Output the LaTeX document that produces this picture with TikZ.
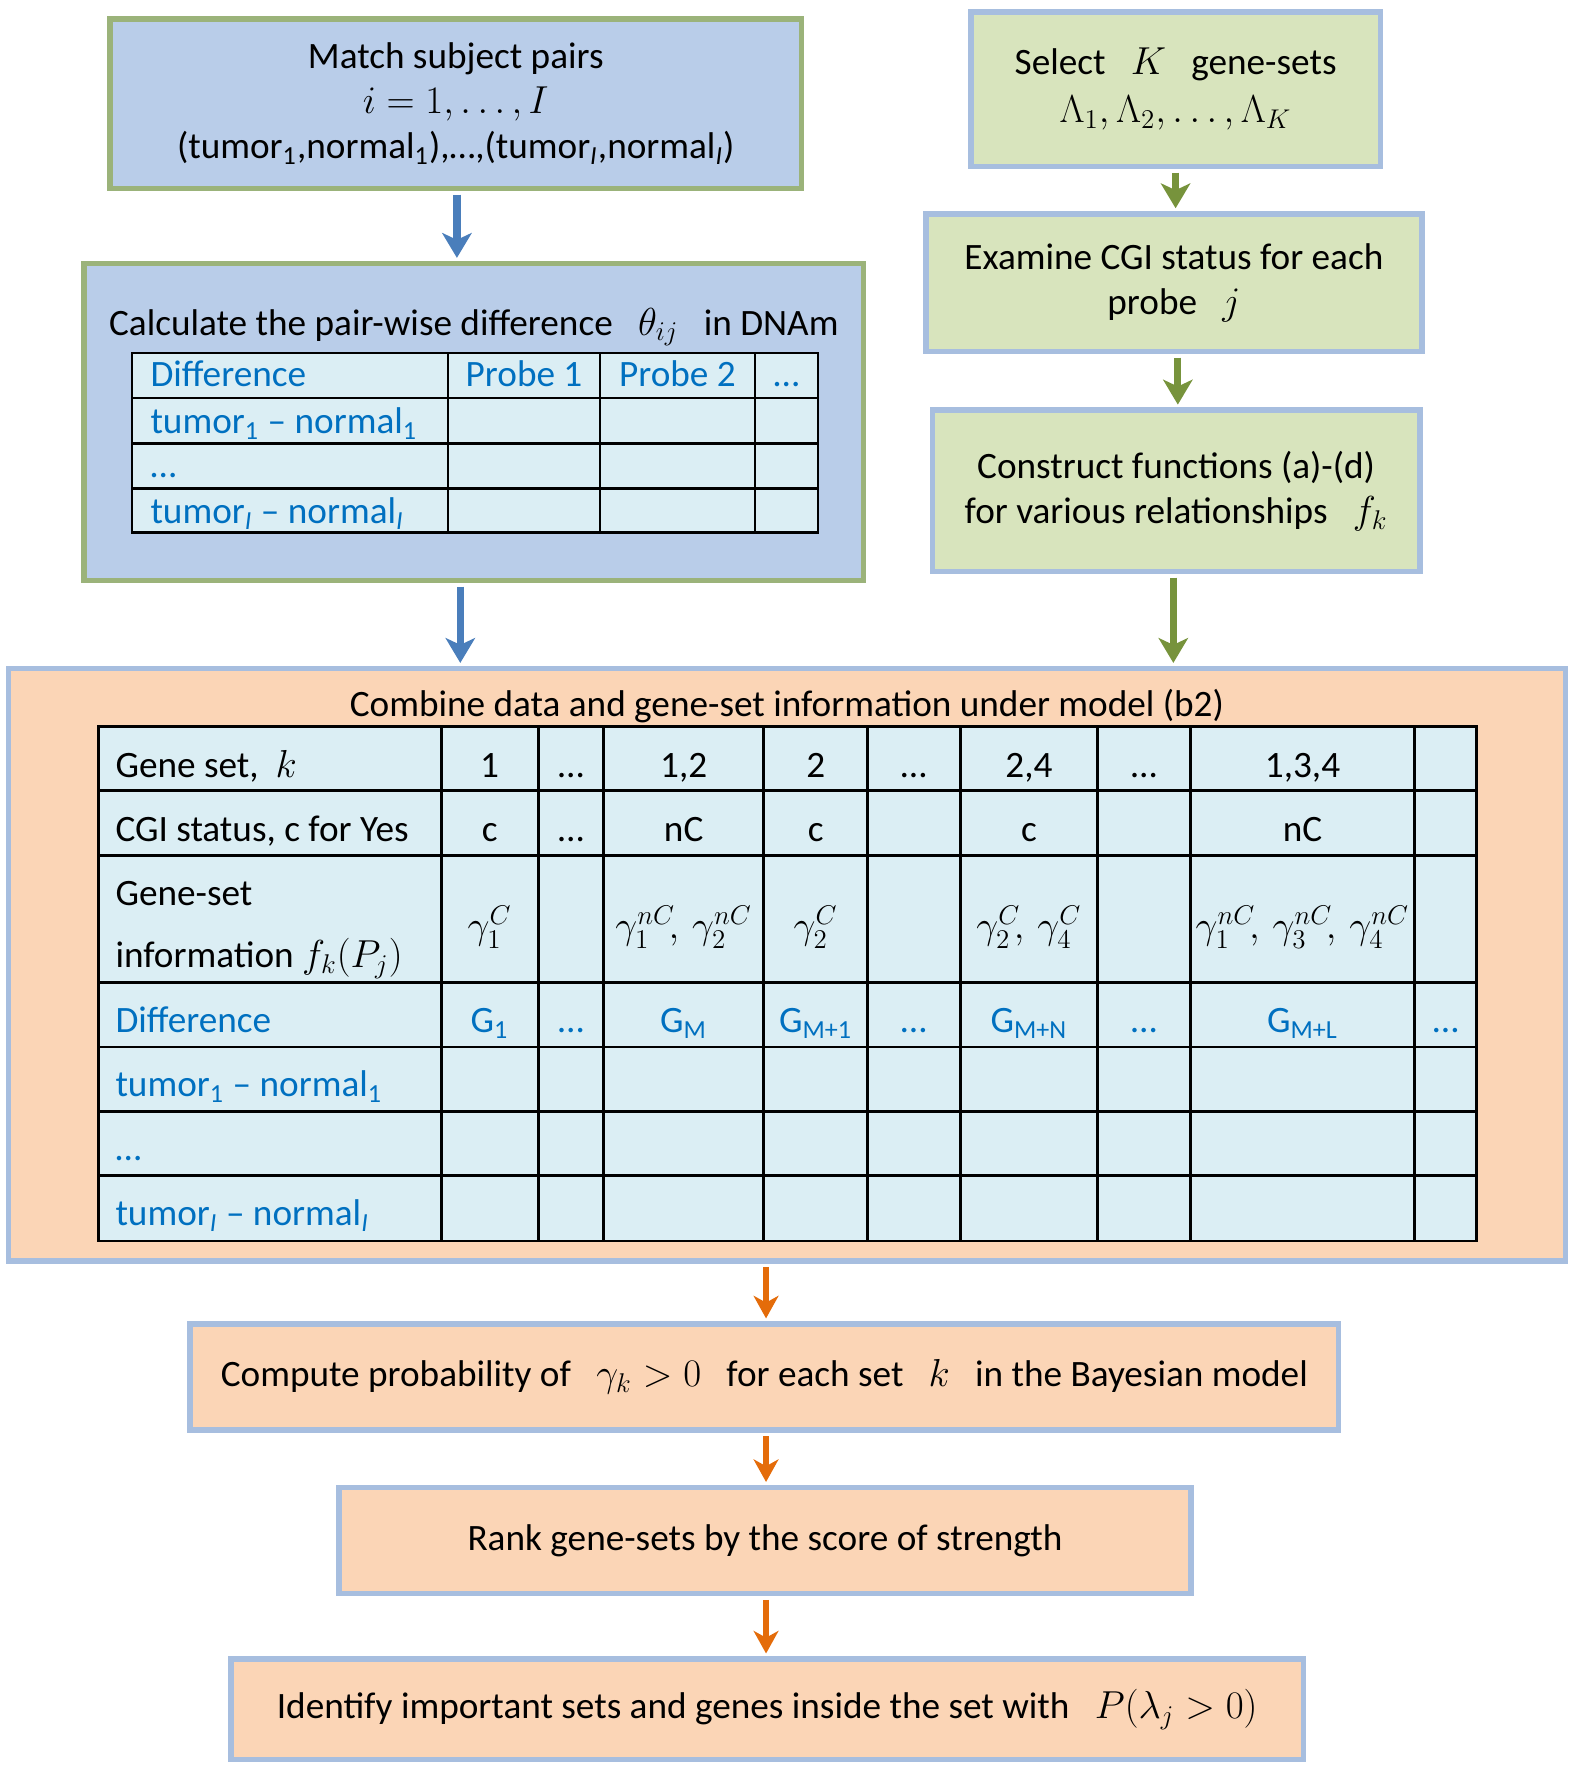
\documentclass[tikz,border=0pt]{standalone}
\usepackage{fontspec}
\setmainfont{Carlito}
\usetikzlibrary{arrows.meta}
\definecolor{boxblue}{HTML}{B9CDE9}
\definecolor{bordgreen}{HTML}{9BB37A}
\definecolor{boxgreen}{HTML}{D8E4BD}
\definecolor{bordblue}{HTML}{A7BEDF}
\definecolor{peach}{HTML}{FBD5B6}
\definecolor{cellc}{HTML}{DBEEF4}
\definecolor{txtblue}{HTML}{0070C0}
\definecolor{arrblue}{HTML}{4A7EBB}
\definecolor{arrgreen}{HTML}{77933C}
\definecolor{arrorange}{HTML}{E46C0A}
\begin{document}
\begin{tikzpicture}[x=0.5pt,y=-0.5pt, font=\fontsize{16.5}{20}\selectfont,
  bluebox/.style={draw=bordgreen, fill=boxblue, line width=2.5pt, inner sep=0pt, align=center},
  greenbox/.style={draw=bordblue, fill=boxgreen, line width=2.5pt, inner sep=0pt, align=center},
  peachbox/.style={draw=bordblue, fill=peach, line width=2.5pt, inner sep=0pt, align=center},
  cc/.style={inner sep=0pt, anchor=base},
  lc/.style={inner sep=0pt, anchor=base west},
  mc/.style={inner sep=0pt, anchor=center},
  bt/.style={text=txtblue},
  conn/.style={line width=3.2pt, shorten <=1.5pt, shorten >=1.2pt, -{Stealth[length=11pt,width=13pt,inset=3pt]}},
  oconn/.style={line width=2.6pt, shorten <=1.5pt, shorten >=1.2pt, draw=arrorange, -{Stealth[length=10pt,width=11pt,inset=3pt]}},
  tline/.style={line width=1.1pt, draw=black},
]
\useasboundingbox (0,0) rectangle (1395,1568);

% ---- left column ----
\node[bluebox, minimum width=306.5pt, minimum height=75pt] (b1) at (404,92)
  {Match subject pairs\\ $i=1,\ldots,I$\\
   (tumor\textsubscript{1},normal\textsubscript{1}),…,(tumor\textsubscript{\textit{I}},normal\textsubscript{\textit{I}})};
\node[bluebox, minimum width=345.5pt, minimum height=140.5pt] (b2) at (420,374) {};
\node[cc] (b2t) at (420,297) {Calculate the pair-wise difference\ \ \ $\theta_{ij}$\ \ \ in DNAm};

% table 1
\fill[cellc] (117,313) rectangle (725,472);
\draw[tline] (117,313) rectangle (725,472);
\foreach \y in {353,393,433} \draw[tline] (117,\y) -- (725,\y);
\foreach \x in {397,532,669} \draw[tline] (\x,313) -- (\x,472);
\node[lc,bt] (p11) at (133,343) {Difference};
\node[cc,bt] (p12) at (464.5,343) {Probe 1};
\node[cc,bt] (p13) at (600.5,343) {Probe 2};
\node[cc,bt] (p14) at (697,343) {…};
\node[lc,bt] (p21) at (133,384) {tumor\textsubscript{1} – normal\textsubscript{1}};
\node[lc,bt] (p31) at (133,423) {…};
\node[lc,bt] (p41) at (133,464) {tumor\textsubscript{\textit{I}} – normal\textsubscript{\textit{I}}};

% ---- right column ----
\node[greenbox, minimum width=181.5pt, minimum height=68.5pt] (r1) at (1042,79)
  {Select\ \ \ $K$\ \ \ gene-sets\\[1pt] $\Lambda_1,\Lambda_2,\ldots,\Lambda_K$};
\node[greenbox, minimum width=220pt, minimum height=61pt] (r2) at (1040.5,250.5)
  {Examine CGI status for each\\ probe\ \ \ $j$};
\node[greenbox, minimum width=216pt, minimum height=71.5pt] (r3) at (1042.5,435)
  {Construct functions (a)-(d)\\ for various relationships\ \ \ $f_k$};

% ---- combined box ----
\node[peachbox, minimum width=690pt, minimum height=262.5pt] (big) at (697.5,855) {};
\node[cc] (bigt) at (697.5,635) {Combine data and gene-set information under model (b2)};

% table 2
\fill[cellc] (87,644) rectangle (1309,1100);
\draw[line width=1.3pt] (87,644) rectangle (1309,1100);
\foreach \y in {701,758,871,928,985,1042} \draw[line width=1.3pt] (87,\y) -- (1309,\y);
\foreach \x in {391,477,535,677,769,851,973,1055,1254} \draw[line width=1.3pt] (\x,644) -- (\x,1100);

% row 1
\node[lc] (g11) at (102,689) {Gene set,\ \ $k$};
\node[cc] (g12) at (434,689) {1};
\node[cc] (g13) at (506,689) {…};
\node[cc] (g14) at (606,689) {1,2};
\node[cc] (g15) at (723,689) {2};
\node[cc] (g16) at (810,689) {…};
\node[cc] (g17) at (912,689) {2,4};
\node[cc] (g18) at (1014,689) {…};
\node[cc] (g19) at (1154.5,689) {1,3,4};
% row 2
\node[lc] (g21) at (102,746) {CGI status, c for Yes};
\node[cc] (g22) at (434,746) {c};
\node[cc] (g23) at (506,746) {…};
\node[cc] (g24) at (606,746) {nC};
\node[cc] (g25) at (723,746) {c};
\node[cc] (g27) at (912,746) {c};
\node[cc] (g29) at (1154.5,746) {nC};
% row 3
\node[lc] (g31) at (102,803) {Gene-set};
\node[lc] (g31b) at (102,858) {information $f_k(P_j)$};
\node[mc] (g32) at (434,822) {$\gamma_1^{C}$};
\node[mc] (g34) at (606,822) {$\gamma_1^{nC}\!,\,\gamma_2^{nC}$};
\node[mc] (g35) at (723,822) {$\gamma_2^{C}$};
\node[mc] (g37) at (912,822) {$\gamma_2^{C}\!,\,\gamma_4^{C}$};
\node[mc] (g39) at (1154.5,822) {$\gamma_1^{nC}\!,\,\gamma_3^{nC}\!,\,\gamma_4^{nC}$};
% row 4
\node[lc,bt] (g41) at (102,915) {Difference};
\node[cc,bt] (g42) at (434,915) {G\textsubscript{1}};
\node[cc,bt] (g43) at (506,915) {…};
\node[cc,bt] (g44) at (606,915) {G\textsubscript{M}};
\node[cc,bt] (g45) at (723,915) {G\textsubscript{M+1}};
\node[cc,bt] (g46) at (810,915) {…};
\node[cc,bt] (g47) at (912,915) {G\textsubscript{M+N}};
\node[cc,bt] (g48) at (1014,915) {…};
\node[cc,bt] (g49) at (1154.5,915) {G\textsubscript{M+L}};
\node[cc,bt] (g4a) at (1281.5,915) {…};
% rows 5-7
\node[lc,bt] (g51) at (102,972) {tumor\textsubscript{1} – normal\textsubscript{1}};
\node[lc,bt] (g61) at (102,1029) {…};
\node[lc,bt] (g71) at (102,1086) {tumor\textsubscript{\textit{I}} – normal\textsubscript{\textit{I}}};

% ---- bottom boxes ----
\node[peachbox, minimum width=509pt, minimum height=47pt] (c1) at (677.5,1220.5)
  {Compute probability of\ \ \ $\gamma_k>0$\ \ \ for each set\ \ \ $k$\ \ \ in the Bayesian model};
\node[peachbox, minimum width=377.5pt, minimum height=47pt] (c2) at (678,1365.5)
  {Rank gene-sets by the score of strength};
\node[peachbox, minimum width=475.5pt, minimum height=44.5pt] (c3) at (680,1515)
  {Identify important sets and genes inside the set with\ \ \ $P(\lambda_j>0)$};

% ---- connectors ----
\coordinate (xa) at (405,0);
\coordinate (xb) at (408,0);
\coordinate (xc) at (1042,0);
\coordinate (xd) at (1044,0);
\coordinate (xe) at (1040,0);
\coordinate (xf) at (679,0);
\draw[conn, draw=arrblue] (b1.south -| xa) -- (b2.north -| xa);
\draw[conn, draw=arrblue] (b2.south -| xb) -- (big.north -| xb);
\draw[conn, draw=arrgreen] (r1.south -| xc) -- (r2.north -| xc);
\draw[conn, draw=arrgreen] (r2.south -| xd) -- (r3.north -| xd);
\draw[conn, draw=arrgreen] (r3.south -| xe) -- (big.north -| xe);
\draw[oconn] (big.south -| xf) -- (c1.north -| xf);
\draw[oconn] (c1.south -| xf) -- (c2.north -| xf);
\draw[oconn] (c2.south -| xf) -- (c3.north -| xf);
\end{tikzpicture}
\end{document}
